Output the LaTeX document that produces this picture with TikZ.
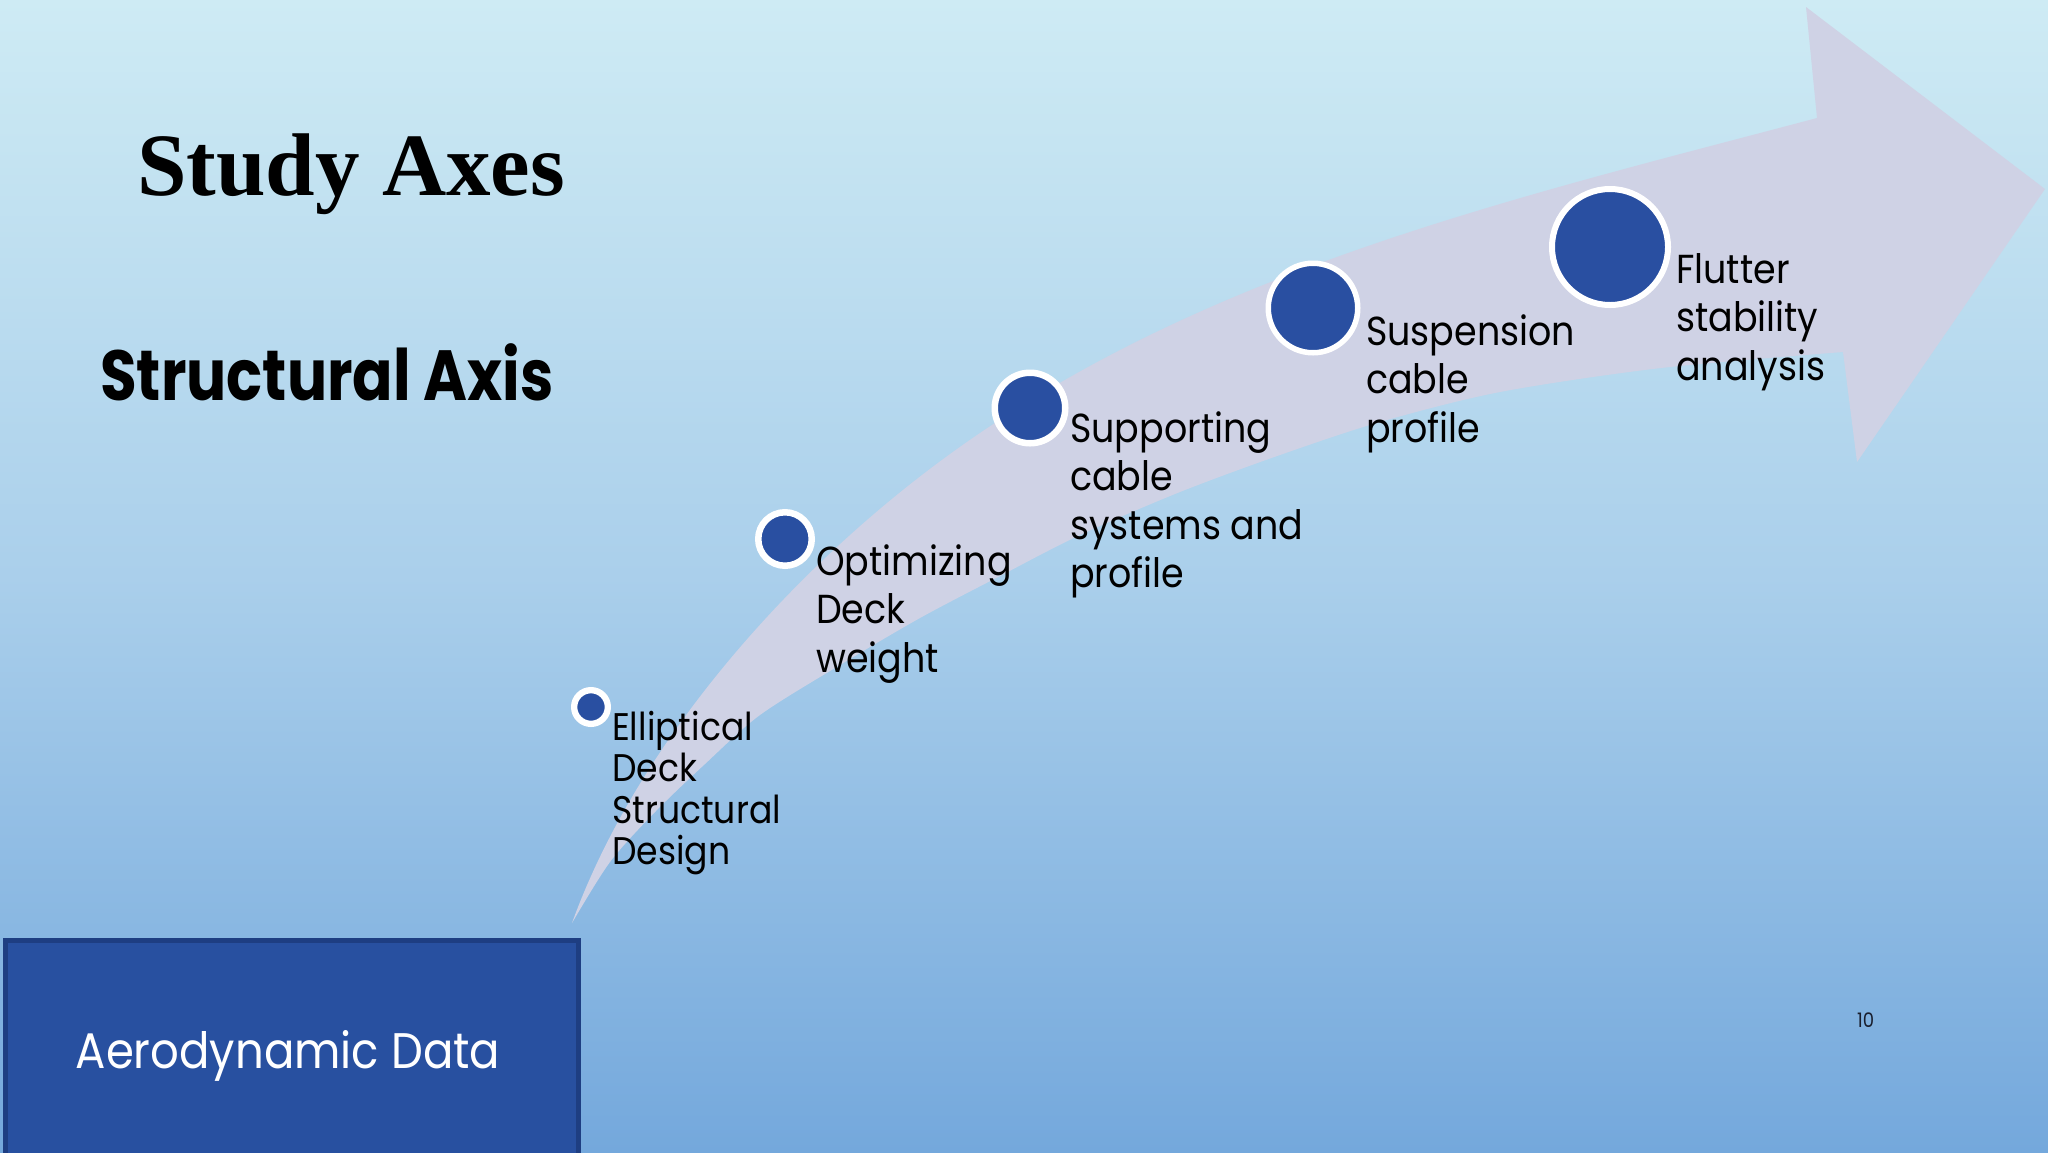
\documentclass[tikz,border=0pt]{standalone}
\usepackage{fontspec}
\newfontfamily\bodyfont{Poppins}[FakeStretch=0.9]
\newfontfamily\boldbody{Poppins}[FakeStretch=0.84]
\newfontfamily\titlefont{Liberation Serif}
\definecolor{bgtop}{RGB}{206,235,244}
\definecolor{bgmid}{RGB}{170,207,235}
\definecolor{bgbot}{RGB}{116,168,220}
\definecolor{arrowfill}{RGB}{207,210,229}
\definecolor{dotblue}{RGB}{41,79,161}
\definecolor{boxblue}{RGB}{40,80,160}
\definecolor{boxedge}{RGB}{30,62,130}
\definecolor{numgray}{RGB}{25,30,45}
\tikzset{
  dot/.style={circle, draw=white, fill=dotblue, inner sep=0pt},
  steplabel/.style={anchor=base west, inner sep=0pt, text=black},
}
\newcommand{\linesA}[1]{\vtop{\bodyfont\fontsize{38.5}{41.5}\selectfont #1}}
\newcommand{\linesB}[1]{\vtop{\bodyfont\fontsize{40.5}{48.5}\selectfont #1}}
\begin{document}
\begin{tikzpicture}[x=1pt,y=-1pt]
\useasboundingbox (0,0) rectangle (2048,1152);
% background
\shade[top color=bgtop, bottom color=bgbot, middle color=bgmid] (0,0) rectangle (2048,1152);
% curved arrow
\fill[arrowfill]
  (572,923) .. controls (640,735) and (806,551) .. (980,433)
  .. controls (1228,264) and (1527,195) .. (1817,118)
  -- (1806,7) -- (2045,189) -- (1857,462) -- (1843,352)
  -- plot[smooth, tension=0.5] coordinates {(1843,352) (1661,368) (1500,392) (1380,422) (1280,455) (1180,492) (1080,535) (1000,576) (920,618) (840,665) (760,715) (705,764) (655,812) (610,862) (572,923)}
  -- cycle;
% title texts
\node[anchor=base west, inner sep=0pt] (title) at (137,195) {\titlefont\bfseries\fontsize{89}{100}\selectfont Study Axes};
\node[anchor=base west, inner sep=0pt] (axis) at (100,400) {\boldbody\bfseries\fontsize{71}{80}\selectfont Structural Axis};
% dots
\node[dot, minimum size=33.7pt, line width=6.3pt] (d1) at (591,707) {};
\node[dot, minimum size=53.5pt, line width=6.5pt] (d2) at (785,539) {};
\node[dot, minimum size=70.5pt, line width=6.5pt] (d3) at (1030,408) {};
\node[dot, minimum size=89.5pt, line width=5.5pt] (d4) at (1313,308) {};
\node[dot, minimum size=116pt, line width=6pt] (d5) at (1610,247) {};
% step labels
\node[steplabel] (t1) at (612,740) {\linesA{\hbox{Elliptical}\hbox{Deck}\hbox{Structural}\hbox{Design}}};
\node[steplabel] (t2) at (816,575) {\linesB{\hbox{Optimizing}\hbox{Deck}\hbox{weight}}};
\node[steplabel] (t3) at (1070,442) {\linesB{\hbox{Supporting}\hbox{cable}\hbox{systems and}\hbox{profile}}};
\node[steplabel] (t4) at (1366,345) {\linesB{\hbox{Suspension}\hbox{cable}\hbox{profile}}};
\node[steplabel] (t5) at (1676,283) {\linesB{\hbox{Flutter}\hbox{stability}\hbox{analysis}}};
% bottom box
\node[draw=boxedge, fill=boxblue, line width=5pt, minimum width=573pt, minimum height=225pt, inner sep=0pt, anchor=north west] (box) at (2.5,937.5) {};
\node[anchor=base, inner sep=0pt, text=white] (boxtext) at (288,1068) {\bodyfont\fontsize{50}{60}\selectfont Aerodynamic Data};
% page number
\node[anchor=base west, inner sep=0pt, text=numgray] (num) at (1857,1027) {\bodyfont\fontsize{20}{24}\selectfont 10};
\end{tikzpicture}
\end{document}
